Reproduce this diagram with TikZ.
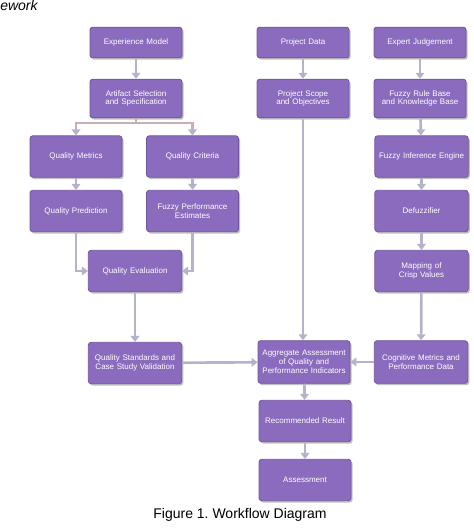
\documentclass[tikz,border=0pt]{standalone}
\usepackage{fontspec}
\setmainfont{Liberation Sans}
\usetikzlibrary{arrows.meta,shadows}
\definecolor{boxfill}{HTML}{8A6BBE}
\definecolor{boxdraw}{HTML}{6F559E}
\definecolor{arr}{HTML}{B5B3CB}
\definecolor{splitc}{HTML}{C8AEB6}
\newcommand\boxfont{\fontsize{6}{6.6}\selectfont\hyphenpenalty=10000\relax\exhyphenpenalty=10000\relax}
\begin{document}
\begin{tikzpicture}[x=0.75pt,y=-0.75pt,
  box/.style={draw=boxdraw, line width=0.6pt, fill=boxfill, rounded corners=2pt,
    text=white, align=center, font=\boxfont,
    minimum width=69pt, minimum height=31pt, text width=64pt, inner sep=1pt,
    drop shadow={opacity=0.5, shadow xshift=1.2pt, shadow yshift=-1.4pt}},
  arw/.style={draw=arr, line width=2pt, -{Triangle[width=6.5pt,length=4.5pt]}},
  ln/.style={draw=arr, line width=2pt},
  sp/.style={draw=splitc, line width=1.6pt}]
\useasboundingbox (0,0) rectangle (474,529);
\node[anchor=base west, font=\fontsize{10.5}{12}\selectfont\itshape, inner sep=0pt] (hdr) at (0,10) {ework};
% left block
\node[box, minimum height=23pt] (b1) at (136,42.5) {Experience Model};
\node[box, minimum height=29pt] (b2) at (136,98.5) {Artifact Selection and Specification};
\node[box] (b3) at (76,156.5) {Quality Metrics};
\node[box] (b4) at (192.5,156.5) {Quality Criteria};
\node[box] (b5) at (76,211) {Quality Prediction};
\node[box] (b6) at (192.5,211) {Fuzzy Performance Estimates};
\node[box, minimum width=70pt] (b7) at (135,271) {Quality Evaluation};
\node[box, minimum width=70pt] (b8) at (135,363) {Quality Standards and Case Study Validation};
% middle
\node[box, minimum height=23pt] (m1) at (303,42.5) {Project Data};
\node[box, minimum height=29pt] (m2) at (303,98.5) {Project Scope and Objectives};
\node[box, minimum height=32pt] (m3) at (304,362) {Aggregate Assessment of Quality and Performance Indicators};
\node[box] (m4) at (305,421) {Recommended Result};
\node[box] (m5) at (305,480) {Assessment};
% right
\node[box, minimum height=23pt] (r1) at (420,42.5) {Expert Judgement};
\node[box, minimum height=29pt] (r2) at (420,98.5) {Fuzzy Rule Base and Knowledge Base};
\node[box, minimum width=70pt] (r3) at (421.5,156.5) {Fuzzy Inference Engine};
\node[box, minimum width=70pt] (r4) at (421.5,211) {Defuzzifier};
\node[box, minimum width=70pt] (r5) at (421.5,271) {Mapping of Crisp Values};
\node[box, minimum width=70pt, minimum height=32pt] (r6) at (421,362) {Cognitive Metrics and Performance Data};
% caption
\node[font=\fontsize{10.5}{12}\selectfont] (cap) at (240,515) {Figure 1.\ Workflow Diagram};
% connectors
\draw[arw] (b1) -- (b2);
\coordinate (s) at (136,123);
\draw[sp] (b2.south) -- (s);
\draw[sp] (s) -| ([yshift=3pt]b3.north);
\draw[sp] (s) -| ([yshift=3pt]b4.north);
\draw[arw] ([yshift=3.5pt]b3.north) -- (b3.north);
\draw[arw] ([yshift=3.5pt]b4.north) -- (b4.north);
\draw[arw] (b3) -- (b5);
\draw[arw] (b4) -- (b6);
\draw[arw] (b5.south) |- (b7.west);
\draw[arw] (b6.south) |- (b7.east);
\draw[arw] (b7) -- (b8);
\draw[arw] (b8) -- (m3);
\draw[arw] (m1) -- (m2);
\draw[arw] (m2.south) -- (m2.south |- m3.north);
\draw[arw] (m3) -- (m4);
\draw[arw] (m4) -- (m5);
\draw[arw] (r1) -- (r2);
\draw[arw] (r2) -- (r3);
\draw[arw] (r3) -- (r4);
\draw[arw] (r4) -- (r5);
\draw[arw] (r5) -- (r6);
\draw[arw] (r6) -- (m3);
\end{tikzpicture}
\end{document}
